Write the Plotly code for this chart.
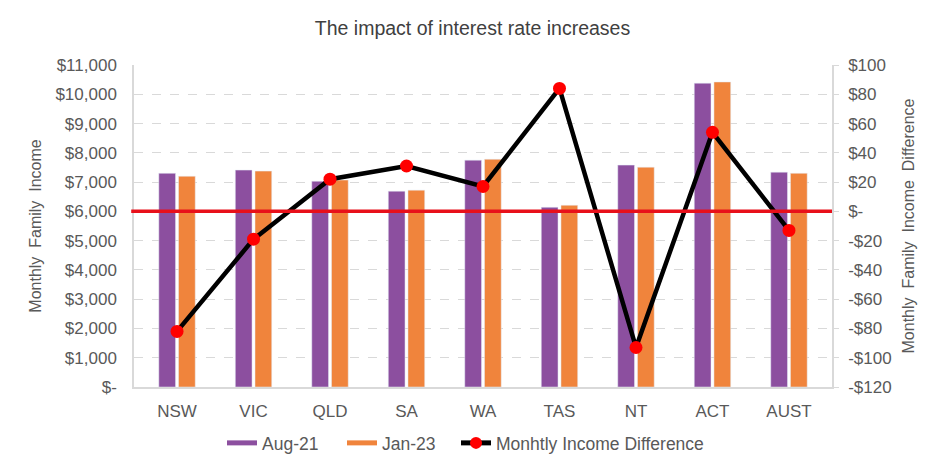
import plotly.graph_objects as go

categories = ["NSW", "VIC", "QLD", "SA", "WA", "TAS", "NT", "ACT", "AUST"]
aug21 = [7300, 7410, 7030, 6690, 7750, 6140, 7580, 10380, 7340]
jan23 = [7200, 7375, 7070, 6725, 7780, 6210, 7510, 10420, 7300]
diff = [-82, -19, 22, 31, 17, 84, -93, 54, -13]

left_tickvals = [0, 1000, 2000, 3000, 4000, 5000, 6000, 7000, 8000, 9000, 10000, 11000]
left_ticktext = ["$-", "$1,000", "$2,000", "$3,000", "$4,000", "$5,000", "$6,000",
                 "$7,000", "$8,000", "$9,000", "$10,000", "$11,000"]
right_tickvals = [-120, -100, -80, -60, -40, -20, 0, 20, 40, 60, 80, 100]
right_ticktext = ["-$120", "-$100", "-$80", "-$60", "-$40", "-$20", "$-",
                  "$20", "$40", "$60", "$80", "$100"]

FONT = "Liberation Sans, Arial, sans-serif"
TXT = "#595959"
AXC = "#d9d9d9"
PURPLE = "#8C4F9F"
ORANGE = "#F0843C"

fig = go.Figure()
fig.add_trace(go.Bar(x=categories, y=aug21, name="Aug-21", marker_color=PURPLE, showlegend=False))
fig.add_trace(go.Bar(x=categories, y=jan23, name="Jan-23", marker_color=ORANGE, showlegend=False))
# legend-only entries drawn as wide swatches
fig.add_trace(go.Scatter(x=[None], y=[None], mode="lines", name="Aug-21", legend="legend",
                         line=dict(color=PURPLE, width=10)))
fig.add_trace(go.Scatter(x=[None], y=[None], mode="lines", name="Jan-23", legend="legend",
                         line=dict(color=ORANGE, width=10)))
fig.add_trace(go.Scatter(x=categories, y=diff, name="Monhtly Income Difference", yaxis="y2",
                         mode="lines+markers", legend="legend2",
                         line=dict(color="black", width=4.5),
                         marker=dict(color="#FF0000", size=13)))

fig.add_shape(type="line", xref="paper", x0=-0.004, x1=1, yref="y2", y0=0, y1=0,
              line=dict(color="#E8101A", width=3.5), layer="above")

leg_y = 1 - 443 / 473
fig.update_layout(
    width=945, height=473,
    margin=dict(l=134, r=113, t=65, b=86, autoexpand=False),
    paper_bgcolor="white", plot_bgcolor="white",
    font=dict(family=FONT, color=TXT, size=17),
    title=dict(text="The impact of interest rate increases", x=0.5, xanchor="center",
               y=1 - 28 / 473, yanchor="middle", yref="container",
               font=dict(size=19.5, color="#404040")),
    barmode="group", bargap=0.485, bargroupgap=0.15,
    showlegend=True,
    legend=dict(orientation="h", x=(222 - 134) / 698, xanchor="left", y=leg_y, yanchor="middle",
                yref="container", font=dict(size=17.5, color=TXT),
                traceorder="normal", itemsizing="constant", entrywidth=75),
    legend2=dict(orientation="h", x=(456 - 134) / 698, xanchor="left", y=leg_y, yanchor="middle",
                 yref="container", font=dict(size=17.5, color=TXT), itemsizing="constant"),
    xaxis=dict(showline=True, linecolor=AXC, linewidth=1.5, ticks="", showgrid=False,
               automargin=False,
               tickfont=dict(size=17, color=TXT), ticklabelstandoff=8),
    yaxis=dict(range=[0, 11000], tickvals=left_tickvals, ticktext=left_ticktext,
               showgrid=True, gridcolor=AXC, griddash="dash", gridwidth=1.3,
               showline=True, linecolor=AXC, linewidth=1.5, zeroline=False,
               ticklabelstandoff=12, automargin=False,
               title=dict(text="Monthly  Family  Income", font=dict(size=16, color=TXT), standoff=10),
               tickfont=dict(size=17, color=TXT)),
    yaxis2=dict(range=[-120, 100], tickvals=right_tickvals, ticktext=right_ticktext,
                overlaying="y", side="right", showgrid=False, zeroline=False,
                showline=True, linecolor=AXC, linewidth=1.5, automargin=False,
                ticks="outside", ticklen=5, tickcolor=AXC, ticklabelstandoff=6,
                title=dict(text="Monthly  Family  Income  Difference", font=dict(size=16, color=TXT),
                           standoff=12),
                tickfont=dict(size=17, color=TXT)),
)

fig.write_html("out.html")
